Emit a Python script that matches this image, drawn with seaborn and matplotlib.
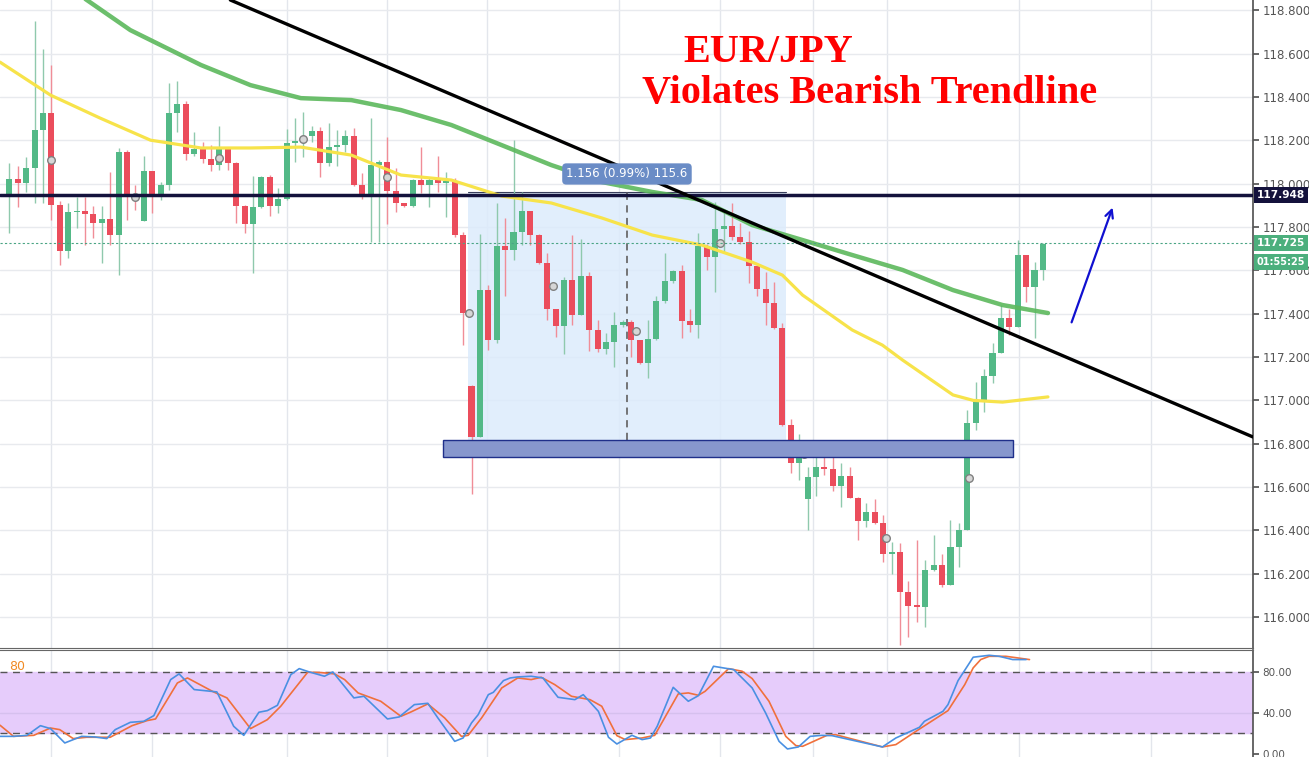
import matplotlib
matplotlib.use("Agg")
import matplotlib.pyplot as plt
import matplotlib.transforms as mtransforms
from matplotlib.patches import Rectangle
import numpy as np
import pandas as pd
import seaborn as sns

# ---------------- data ----------------
opens = [117.953,118.020,118.005,118.071,118.248,118.325,117.902,117.691,117.869,117.876,
         117.86,117.82,117.836,117.765,118.146,117.948,117.83,118.059,117.937,117.994,
         118.328,118.366,118.137,118.159,118.114,118.086,118.159,118.097,117.899,117.814,
         117.894,118.03,117.899,117.928,118.19,118.194,118.22,118.243,118.097,118.168,
         118.177,118.22,117.994,117.937,118.086,118.102,117.968,117.91,117.899,118.017,
         117.994,118.017,118.005,118.013,117.763,117.066,116.832,117.509,117.278,117.712,
         117.696,117.776,117.873,117.763,117.635,117.424,117.343,117.555,117.393,117.573,
         117.324,117.235,117.27,117.347,117.362,117.278,117.173,117.285,117.458,117.55,
         117.596,117.367,117.35,117.712,117.662,117.793,117.804,117.755,117.732,117.62,
         117.516,117.45,117.332,116.886,116.709,116.547,116.647,116.694,116.681,116.604,
         116.65,116.55,116.444,116.486,116.435,116.29,116.3,116.117,116.055,116.047,
         116.217,116.24,116.147,116.321,116.401,116.894,117.004,117.112,117.217,117.378,
         117.34,117.67,117.524,117.601]
closes = [118.020,118.005,118.071,118.248,118.325,117.902,117.691,117.869,117.876,117.86,
          117.82,117.836,117.765,118.146,117.948,117.935,118.059,117.937,117.994,118.328,
          118.366,118.137,118.159,118.114,118.086,118.159,118.097,117.899,117.814,117.894,
          118.03,117.899,117.928,118.19,118.194,118.21,118.243,118.097,118.168,118.177,
          118.22,117.994,117.937,118.086,118.102,117.968,117.91,117.899,118.017,117.994,
          118.017,118.005,118.013,117.763,117.401,116.832,117.509,117.278,117.712,117.696,
          117.776,117.873,117.763,117.635,117.424,117.343,117.555,117.393,117.573,117.324,
          117.235,117.27,117.347,117.362,117.278,117.173,117.285,117.458,117.55,117.596,
          117.367,117.35,117.712,117.662,117.793,117.804,117.755,117.732,117.62,117.516,
          117.45,117.332,116.886,116.709,116.793,116.647,116.694,116.681,116.604,116.65,
          116.55,116.444,116.486,116.435,116.29,116.3,116.117,116.052,116.047,116.217,
          116.24,116.147,116.321,116.401,116.894,117.004,117.112,117.217,117.378,117.34,
          117.67,117.524,117.601,117.724]
highs = [118.094,118.082,118.125,118.75,118.62,118.548,117.92,117.91,117.94,117.94,
         117.895,117.895,118.056,118.163,118.155,117.994,118.13,118.06,118.01,118.466,
         118.476,118.38,118.24,118.194,118.18,118.266,118.164,118.1,117.9,118.036,
         118.035,118.04,117.979,118.251,118.302,118.333,118.266,118.263,118.282,118.248,
         118.248,118.255,118.051,118.302,118.11,118.214,118.071,117.91,118.02,118.168,
         118.025,118.128,118.056,118.025,117.778,117.07,117.77,117.532,117.912,117.844,
         118.2,117.962,117.873,117.77,117.678,117.424,117.57,117.763,117.743,117.593,
         117.37,117.31,117.409,117.37,117.37,117.28,117.37,117.481,117.678,117.6,
         117.624,117.424,117.773,117.72,117.916,117.875,117.912,117.817,117.78,117.62,
         117.593,117.547,117.355,116.916,116.847,116.694,116.78,116.78,116.78,116.709,
         116.694,116.555,116.524,116.547,116.47,116.347,116.34,116.167,116.355,116.263,
         116.378,116.293,116.447,116.432,116.955,117.086,117.147,117.266,117.44,117.424,
         117.74,117.67,117.64,117.725]
lows = [117.771,117.894,117.963,117.91,117.91,117.833,117.625,117.655,117.794,117.717,
        117.748,117.633,117.717,117.579,117.833,117.88,117.83,117.863,117.925,117.971,
        118.24,118.11,118.13,118.094,118.06,118.063,118.063,117.817,117.774,117.586,
        117.89,117.851,117.866,117.925,118.102,118.125,118.194,118.033,118.082,118.082,
        118.148,117.99,117.928,117.732,117.732,117.814,117.871,117.894,117.894,117.956,
        117.894,117.963,117.848,117.755,117.255,116.57,116.83,117.232,117.263,117.481,
        117.647,117.716,117.716,117.63,117.37,117.293,117.216,117.347,117.393,117.229,
        117.224,117.216,117.155,117.34,117.2,117.17,117.101,117.278,117.45,117.54,
        117.286,117.316,117.286,117.601,117.501,117.678,117.74,117.72,117.54,117.48,
        117.35,117.33,116.88,116.663,116.632,116.401,116.558,116.655,116.583,116.506,
        116.55,116.355,116.417,116.43,116.255,116.2,115.87,115.909,115.978,115.952,
        116.213,116.14,116.147,116.229,116.4,116.863,116.947,117.078,117.217,117.301,
        117.34,117.455,117.286,117.555]

ma_fast_idx = [-1.1,4.9,10.8,16.8,22.8,28.7,34.7,40.7,46.6,52.6,58.6,64.5,70.5,76.5,
               82.4,88.4,92.0,94.4,100.3,103.9,106.3,112.3,114.7,118.2,123.6]
ma_fast_val = [118.561,118.409,118.303,118.201,118.165,118.165,118.169,118.132,118.04,118.017,
               117.943,117.911,117.842,117.763,117.717,117.638,117.578,117.486,117.325,117.255,
               117.186,117.025,117.0,116.992,117.016]
ma_slow_idx = [8.4,14.4,22.8,28.7,34.7,40.7,46.6,52.6,58.6,64.5,70.5,76.5,82.4,88.4,94.4,
               100.3,106.3,112.3,118.2,123.6]
ma_slow_val = [118.87,118.709,118.548,118.455,118.395,118.386,118.34,118.271,118.178,118.086,
               118.008,117.962,117.925,117.809,117.74,117.671,117.602,117.509,117.44,117.403]

k_idx = [-1.1,0.5,2.1,3.7,4.9,6.6,8.6,10.2,11.6,12.6,14.4,16.0,17.2,19.2,20.2,22.0,24.7,26.7,
         27.9,29.7,30.7,31.9,33.5,34.5,35.7,37.5,38.5,41.0,42.2,45.0,46.4,48.2,49.8,51.0,53.0,
         54.0,55.0,55.8,57.0,57.6,58.8,59.6,60.5,62.1,63.5,65.3,67.3,68.3,70.1,71.3,72.3,74.1,
         75.3,76.3,77.1,79.0,80.8,82.0,83.8,86.2,88.4,90.0,91.6,92.6,93.9,95.3,96.7,97.9,103.9,
         105.5,108.3,108.9,111.1,111.7,112.9,114.7,116.6,117.8,119.4,121.0]
k_val = [17.0,17.0,18.0,27.5,24.6,10.5,17.0,16.4,14.8,23.6,30.8,31.8,37.4,72.8,78.4,63.0,60.7,
         26.9,18.0,40.7,42.3,47.5,77.7,83.6,80.3,76.1,80.3,54.8,56.4,34.1,36.1,48.2,49.5,35.1,
         12.1,15.4,30.2,38.4,58.0,60.3,71.8,74.4,75.4,76.1,74.4,55.4,53.1,58.0,41.6,16.1,9.5,
         18.0,13.8,15.4,26.9,65.2,51.5,57.0,85.9,82.6,64.6,40.0,12.1,4.6,6.6,17.0,18.0,17.7,6.6,
         15.4,25.9,31.8,41.6,48.2,71.8,94.8,96.7,95.7,92.5,92.5]
d_idx = [-1.1,0.5,2.9,4.9,6.0,7.6,9.2,12.0,14.6,16.4,17.4,20.0,21.2,24.3,25.9,28.7,30.7,32.3,
         35.5,37.1,38.7,39.9,41.5,44.2,46.6,47.8,49.8,51.8,53.8,54.6,56.2,58.6,60.5,62.1,63.3,
         64.9,66.9,69.1,70.5,72.3,73.3,75.3,76.8,79.6,80.8,82.0,82.8,85.6,87.2,88.4,90.4,92.4,
         93.6,94.4,97.3,98.3,103.9,105.5,107.9,111.7,113.7,114.7,115.6,116.6,118.6,121.4]
d_val = [27.9,17.0,18.0,25.2,23.6,14.8,16.1,16.1,27.5,32.5,34.1,69.5,74.4,60.7,54.8,24.6,33.4,
         46.6,80.0,79.7,78.4,72.8,59.7,51.5,36.7,41.0,48.9,35.1,17.0,18.0,35.1,64.6,74.4,72.8,
         75.1,67.9,56.4,53.1,46.6,17.7,13.8,15.4,18.0,58.7,59.7,57.4,61.3,83.6,81.0,73.8,51.5,
         17.0,7.9,7.2,18.0,18.7,6.6,8.9,22.0,42.3,67.9,84.3,92.5,95.7,95.7,92.5]

pivot_idx = [5,15,25,35,45,54.7,64.7,74.6,84.6,94.6,104.3,114.2]
pivot_val = [118.11,117.937,118.12,118.206,118.032,117.403,117.528,117.32,117.726,116.752,116.365,116.642]

resistance = 117.948
last_price = 117.725
countdown = "01:55:25"
measure_label = "1.156 (0.99%) 115.6"
trend_idx = [26.3, 148.0]
trend_val = [118.848, 116.831]
zone_idx = [51.6, 119.4]
zone_val = [116.74, 116.817]
range_idx = [54.6, 92.4]
range_val = [116.817, 117.961]
arrow_idx = [126.3, 131.4]
arrow_val = [117.348, 117.902]
grid_idx = [5.0, 17.0, 33.0, 45.0, 56.8, 72.6, 84.6, 95.6, 104.4, 120.1, 135.9]
price_ticks = [116.0 + 0.2 * i for i in range(15)]

# ---------------- figure ----------------
sns.set_theme(style="white")
plt.rcParams['font.family'] = ['DejaVu Sans']
W, H = 1309, 757
fig = plt.figure(figsize=(W / 100, H / 100), dpi=100)
ax = fig.add_axes([0, 1 - 648 / H, 1253 / W, 648 / H])
ax2 = fig.add_axes([0, 0, 1253 / W, 107 / H])
XL = (-1.11, 148.0)
ax.set_xlim(*XL); ax.set_ylim(115.857, 118.848)
ax2.set_xlim(*XL); ax2.set_ylim(-3.3, 101.9)

for a in (ax, ax2):
    for x in grid_idx:
        a.axvline(x, color="#e3e6ec", lw=1, zorder=0)
    a.set_xticks([])
    for s in ("top", "left", "bottom"):
        a.spines[s].set_visible(False)
    a.spines["right"].set_color("#555555")
    a.yaxis.tick_right()
    a.tick_params(axis="y", colors="#555555", labelsize=8.5, length=4, direction="out", pad=3)

for y in price_ticks:
    ax.axhline(y, color="#e8eaee", lw=1, zorder=0)
ax.set_yticks(price_ticks)
ax.set_yticklabels([f"{v:.3f}" for v in price_ticks])
ax.spines["bottom"].set_visible(True)
ax.spines["bottom"].set_color("#666666")
ax.spines["bottom"].set_linewidth(0.8)

# measured range box
ax.add_patch(Rectangle((range_idx[0], range_val[0]), range_idx[1] - range_idx[0],
                       range_val[1] - range_val[0], facecolor="#dcebfc", edgecolor="none",
                       alpha=0.85, zorder=1))
ax.plot(range_idx, [range_val[1]] * 2, color="#3a3f5c", lw=0.8, zorder=2)
mid = (range_idx[0] + range_idx[1]) / 2
ax.plot([mid, mid], range_val, color="#6b6b6b", lw=1.3, ls=(0, (4, 3)), zorder=2)
ax.text(mid, 118.045, measure_label, color="white",
        fontsize=8.5, ha="center", va="center", zorder=9,
        bbox=dict(boxstyle="round,pad=0.35", fc="#6a8cc6", ec="none"))

# candles
df = pd.DataFrame({"o": opens, "c": closes, "h": highs, "l": lows})
df["i"] = np.arange(len(df))
up = df["c"] >= df["o"]
GREEN, RED = "#53b987", "#eb4d5c"
cols = np.where(up, GREEN, RED)
ax.vlines(df["i"], df["l"], df["h"], colors=np.where(up, "#8fc9ad", "#f08d97"), lw=1, zorder=3)
bot = np.minimum(df["o"], df["c"])
hgt = np.maximum(np.abs(df["c"] - df["o"]), 0.006)
ax.bar(df["i"], hgt, bottom=bot, width=0.72, color=cols, edgecolor="none", zorder=4)

# moving averages
sns.lineplot(x=ma_fast_idx, y=ma_fast_val, ax=ax, color="#f7e34a", lw=2.3, zorder=5)
sns.lineplot(x=ma_slow_idx, y=ma_slow_val, ax=ax, color="#5cb85c", lw=3.2, zorder=5, alpha=0.9)

ax.scatter(pivot_idx, pivot_val, s=30, color="#d6d6d6", edgecolor="#808080", lw=1, zorder=6)

# lines
ax.axhline(resistance, color="#14123c", lw=2.5, zorder=6)
ax.axhline(last_price, color="#4aa584", lw=0.8, ls=(0, (2, 2)), zorder=6)
ax.plot(trend_idx, trend_val, color="black", lw=2.4, zorder=7)
ax.add_patch(Rectangle((zone_idx[0], zone_val[0]), zone_idx[1] - zone_idx[0],
                       zone_val[1] - zone_val[0], facecolor="#8797cd", edgecolor="#1f2f8a",
                       lw=1, zorder=7))
ax.annotate("", xy=(arrow_idx[1], arrow_val[1]), xytext=(arrow_idx[0], arrow_val[0]),
            arrowprops=dict(arrowstyle="->", color="#1010d0", lw=1.6, mutation_scale=14), zorder=8)

# right-axis price badges
tr = mtransforms.blended_transform_factory(ax.transAxes, ax.transData)
badge = dict(transform=tr, color="white", fontsize=7.6, fontweight="bold", va="center",
             ha="left", clip_on=False, zorder=10)
ax.text(1.003, resistance, f"{resistance:.3f}",
        bbox=dict(boxstyle="square,pad=0.3", fc="#14123c", ec="none"), **badge)
ax.text(1.003, last_price, f"{last_price:.3f}",
        bbox=dict(boxstyle="square,pad=0.3", fc="#4caf7d", ec="none"), **badge)
cd = dict(badge); cd["fontsize"] = 7.0
ax.text(1.003, last_price - 0.088, countdown,
        bbox=dict(boxstyle="square,pad=0.3", fc="#4caf7d", ec="none"), **cd)

# title
fig.text(768 / W, 1 - 52 / H, "EUR/JPY", color="#ff0000", fontsize=29, fontweight="bold",
         family="Liberation Serif", ha="center", va="center")
fig.text(870 / W, 1 - 93 / H, "Violates Bearish Trendline", color="#ff0000", fontsize=29,
         fontweight="bold", family="Liberation Serif", ha="center", va="center")

# stochastic pane
ax2.axhspan(20, 80, color="#e6ccfb", zorder=0)
ax2.axhline(40, color="#d6c0ee", lw=1, zorder=1)
ax2.axhline(80, color="#555555", lw=1, ls=(0, (5, 4)), zorder=2)
ax2.axhline(20, color="#555555", lw=1, ls=(0, (5, 4)), zorder=2)
sns.lineplot(x=k_idx, y=k_val, ax=ax2, color="#4a90e2", lw=1.2, zorder=4)
sns.lineplot(x=d_idx, y=d_val, ax=ax2, color="#f0703c", lw=1.2, zorder=3)
ax2.set_yticks([0, 40, 80])
ax2.set_yticklabels(["0.00", "40.00", "80.00"])
ax2.tick_params(axis="y", labelsize=7.5)
ax2.text(0.0, 86, "80", color="#f08a24", fontsize=9, ha="left", va="center")
ax2.set_xlabel(""); ax2.set_ylabel(""); ax.set_xlabel(""); ax.set_ylabel("")
ax2.spines["top"].set_visible(True); ax2.spines["top"].set_color("#666666")
ax2.spines["top"].set_linewidth(0.8)

fig.savefig("out.png", dpi=100)
